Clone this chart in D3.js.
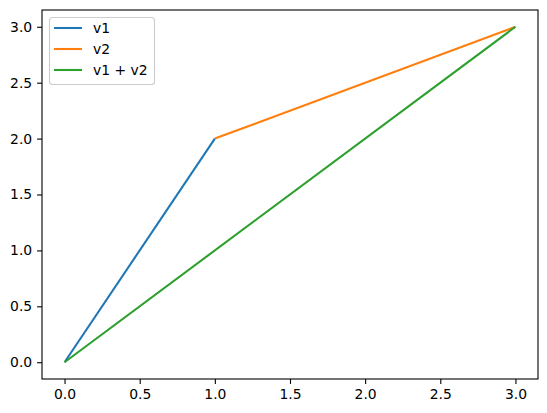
<!DOCTYPE html>
<html><head><meta charset="utf-8">
<script src="https://cdn.jsdelivr.net/npm/d3@7"></script>
<style>body{margin:0;background:#fff}svg{display:block}</style>
</head><body>
<svg id="c" width="547" height="413"></svg>
<script>
const seriesNames = ["v1", "v2", "v1 + v2"];
const seriesColors = ["#1f77b4", "#ff7f0e", "#2ca02c"];
const v1 = [[0, 0], [1, 2]];
const v2 = [[1, 2], [3, 3]];
const v1v2 = [[0, 0], [3, 3]];
const xTicks = [0, 0.5, 1, 1.5, 2, 2.5, 3];
const yTicks = [0, 0.5, 1, 1.5, 2, 2.5, 3];

const svg = d3.select("#c");
const L = 42, R = 538, T = 10, B = 379;
const x = d3.scaleLinear().domain([-0.15, 3.15]).range([L, R]);
const y = d3.scaleLinear().domain([-0.15, 3.15]).range([B, T]);
const font = "DejaVu Sans, sans-serif";

const xa = svg.append("g").attr("transform", `translate(0,${B})`)
  .call(d3.axisBottom(x).tickValues(xTicks).tickFormat(d3.format(".1f")).tickSize(4.9).tickPadding(4.9));
const ya = svg.append("g").attr("transform", `translate(${L},0)`)
  .call(d3.axisLeft(y).tickValues(yTicks).tickFormat(d3.format(".1f")).tickSize(4.9).tickPadding(4.9));
[xa, ya].forEach(a => {
  a.select(".domain").remove();
  a.selectAll("line").attr("stroke", "#000").attr("stroke-width", 1.1);
  a.selectAll("text").attr("font-family", font).attr("font-size", "13.9px").attr("fill", "#000");
});

const line = d3.line().x(d => x(d[0])).y(d => y(d[1]));
[v1, v2, v1v2].forEach((s, i) => {
  svg.append("path").attr("d", line(s)).attr("fill", "none")
    .attr("stroke", seriesColors[i]).attr("stroke-width", 2.08).attr("stroke-linecap", "butt");
});

svg.append("rect").attr("x", L).attr("y", T).attr("width", R - L).attr("height", B - T)
  .attr("fill", "none").attr("stroke", "#000").attr("stroke-width", 1.1);

const lg = svg.append("g");
lg.append("rect").attr("x", 49.5).attr("y", 17.5).attr("width", 105).attr("height", 67)
  .attr("rx", 3).attr("fill", "#fff").attr("fill-opacity", 0.8).attr("stroke", "#ccc").attr("stroke-width", 1.1);
seriesNames.forEach((n, i) => {
  const yy = 28 + i * 21;
  lg.append("line").attr("x1", 54).attr("x2", 82).attr("y1", yy).attr("y2", yy)
    .attr("stroke", seriesColors[i]).attr("stroke-width", 2.08);
  lg.append("text").attr("x", 93).attr("y", yy).attr("dy", "0.35em")
    .attr("font-family", font).attr("font-size", "13.9px").text(n);
});
</script>
</body></html>
